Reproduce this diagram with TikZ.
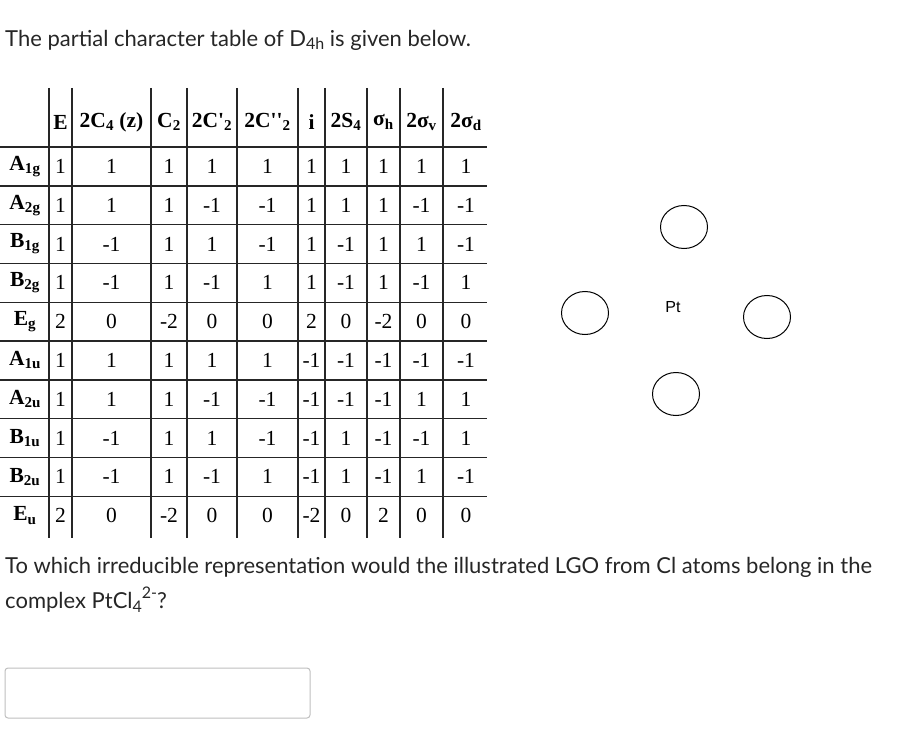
\documentclass[tikz,border=0pt]{standalone}
\usepackage{fontspec}
\usetikzlibrary{shapes.geometric}
\setmainfont{Lato}
\newfontfamily\tnr{Liberation Serif}
\newfontfamily\arl{Liberation Sans}
\begin{document}
\begin{tikzpicture}[x=1pt,y=-1pt,
  txt/.style={anchor=west,inner sep=0,font=\fontsize{22}{26}\selectfont,text=black!85},
  cell/.style={inner sep=0,font=\tnr\fontsize{21.5}{24}\selectfont},
  hcell/.style={inner sep=0,font=\tnr\bfseries\fontsize{21.5}{24}\selectfont},
  grid/.style={line width=1.4pt,black!85},
  orb/.style={draw,line width=1pt,ellipse,minimum width=47,minimum height=43}]
\useasboundingbox (0,0) rectangle (918,741);
\node[txt] (t1) at (5,40) {The partial character table of D\raisebox{-0.35ex}{\fontsize{16}{16}\selectfont 4h} is given below.};
% grid
\foreach \x in {49,72,151,187,237,298,325,367,400,443}
  \draw[grid] (\x,88) -- (\x,538);
\foreach \i in {0,...,9}
  \draw[grid] (0,147+38.8*\i) -- (487,147+38.8*\i);
% header
\def\cx{{0,60.5,111.5,169,212,267.5,311.5,346,383.5,421.5,466}}
\foreach \t [count=\j] in {E,2C\textsubscript{4} (z),C\textsubscript{2},2C'\textsubscript{2},2C''\textsubscript{2},i,2S\textsubscript{4},σ\textsubscript{h},2σ\textsubscript{v},2σ\textsubscript{d}}
  \node[hcell] (h\j) at ({\cx[\j]},122) {\t};
\foreach \r/\lab/\vals [count=\i from 0] in {
 A1g/A\textsubscript{1g}/{1,1,1,1,1,1,1,1,1,1},
 A2g/A\textsubscript{2g}/{1,1,1,-1,-1,1,1,1,-1,-1},
 B1g/B\textsubscript{1g}/{1,-1,1,1,-1,1,-1,1,1,-1},
 B2g/B\textsubscript{2g}/{1,-1,1,-1,1,1,-1,1,-1,1},
 Eg/E\textsubscript{g}/{2,0,-2,0,0,2,0,-2,0,0},
 A1u/A\textsubscript{1u}/{1,1,1,1,1,-1,-1,-1,-1,-1},
 A2u/A\textsubscript{2u}/{1,1,1,-1,-1,-1,-1,-1,1,1},
 B1u/B\textsubscript{1u}/{1,-1,1,1,-1,-1,1,-1,-1,1},
 B2u/B\textsubscript{2u}/{1,-1,1,-1,1,-1,1,-1,1,-1},
 Eu/E\textsubscript{u}/{2,0,-2,0,0,-2,0,2,0,0}}{
  \node[hcell] (l\r) at (25,{166.4+38.8*\i}) {\lab};
  \foreach \v [count=\j] in \vals
    \node[cell] (c\r\j) at ({\cx[\j]},{166.4+38.8*\i}) {\v};
}
% orbitals
\node[orb] (o1) at (684,227) {};
\node[orb] (o2) at (585,313) {};
\node[orb] (o3) at (767,317) {};
\node[orb] (o4) at (676,394) {};
\node[inner sep=0,font=\arl\fontsize{16}{16}\selectfont] (pt) at (673,307) {Pt};
\node[txt] (t2) at (5,567) {To which irreducible representation would the illustrated LGO from Cl atoms belong in the};
\node[txt] (t3) at (5,600) {complex PtCl\raisebox{-0.35ex}{\fontsize{16}{16}\selectfont 4}\raisebox{0.9ex}{\fontsize{16}{16}\selectfont 2-}?};
\node[draw=black!25,line width=1pt,rounded corners=3,minimum width=305,minimum height=50,inner sep=0] (box) at (157.5,693) {};
\end{tikzpicture}
\end{document}
